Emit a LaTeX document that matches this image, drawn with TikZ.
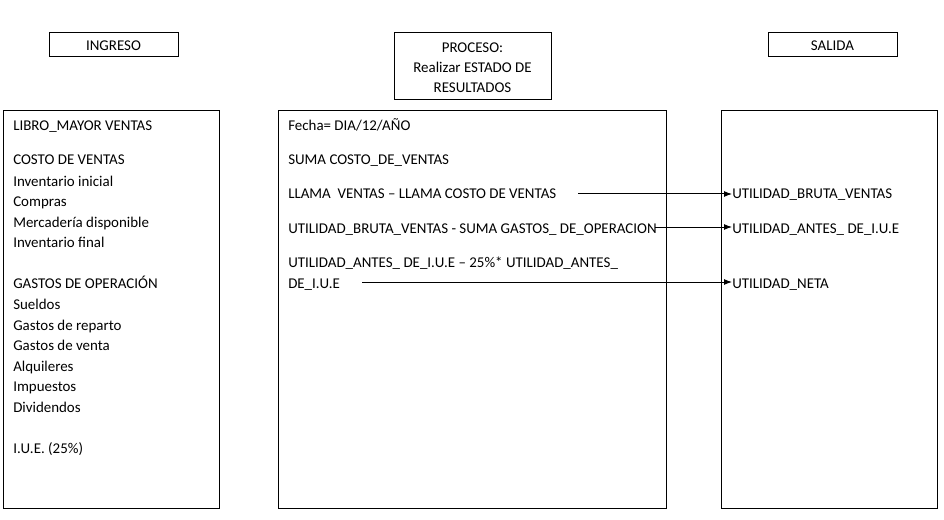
\documentclass[tikz,border=0pt]{standalone}
\usepackage{fontspec}
\setmainfont{Carlito}
\usetikzlibrary{arrows.meta}

\begin{document}
\begin{tikzpicture}[x=0.75pt, y=-0.75pt,
    font=\fontsize{11.2}{13}\selectfont,
    txt/.style={anchor=base west, inner sep=0pt},
    flow/.style={black, line width=0.75pt, -{Latex[length=6pt, width=4.5pt]}}]
    \useasboundingbox (0,0) rectangle (944,520);
    % header boxes
    \draw[black, line width=0.75pt] (49,33) rectangle (178,57);
    \draw[black, line width=0.75pt] (394,33) rectangle (551,100);
    \draw[black, line width=0.75pt] (768,33) rectangle (897,57);
    % main boxes
    \draw[black, line width=0.75pt] (3,111) rectangle (219,508);
    \draw[black, line width=0.75pt] (278,111) rectangle (666,508);
    \draw[black, line width=0.75pt] (721,111) rectangle (937,508);
    % header labels
    \node[anchor=base, inner sep=0pt] (ingreso) at (113.5,51) {INGRESO};
    \node[anchor=base, inner sep=0pt] (proceso) at (472.5,53) {PROCESO:};
    \node[anchor=base, inner sep=0pt] (realizar) at (472.5,73) {Realizar ESTADO DE};
    \node[anchor=base, inner sep=0pt] (resultados) at (472.5,93) {RESULTADOS};
    \node[anchor=base, inner sep=0pt] (salida) at (832.5,51) {SALIDA};
    % ingreso
    \node[txt] (libro) at (13,131) {LIBRO\_MAYOR VENTAS};
    \node[txt] (costo) at (13,165) {COSTO DE VENTAS};
    \node[txt] (invini) at (13,186) {Inventario inicial};
    \node[txt] (compras) at (13,206) {Compras};
    \node[txt] (merc) at (13,227) {Mercadería disponible};
    \node[txt] (invfin) at (13,247) {Inventario final};
    \node[txt] (gastos) at (13,288) {GASTOS DE OPERACIÓN};
    \node[txt] (sueldos) at (13,309) {Sueldos};
    \node[txt] (reparto) at (13,330) {Gastos de reparto};
    \node[txt] (venta) at (13,350) {Gastos de venta};
    \node[txt] (alquileres) at (13,371) {Alquileres};
    \node[txt] (impuestos) at (13,391) {Impuestos};
    \node[txt] (dividendos) at (13,412) {Dividendos};
    \node[txt] (iue) at (13,453) {I.U.E. (25\%)};
    % proceso
    \node[txt] (fecha) at (288,131) {Fecha= DIA/12/AÑO};
    \node[txt] (suma) at (288,165) {SUMA COSTO\_DE\_VENTAS};
    \node[txt] (llama) at (288,199) {LLAMA\ \ VENTAS – LLAMA COSTO DE VENTAS};
    \node[txt] (resta) at (288,233) {UTILIDAD\_BRUTA\_VENTAS - SUMA GASTOS\_ DE\_OPERACION};
    \node[txt] (imp) at (288,267) {UTILIDAD\_ANTES\_ DE\_I.U.E – 25\%* UTILIDAD\_ANTES\_};
    \node[txt] (imp2) at (288,288) {DE\_I.U.E};
    % salida
    \node[txt] (bruta) at (732,199) {UTILIDAD\_BRUTA\_VENTAS};
    \node[txt] (antes) at (732,233) {UTILIDAD\_ANTES\_ DE\_I.U.E};
    \node[txt] (neta) at (732,288) {UTILIDAD\_NETA};
    % arrows
    \coordinate (a1) at (578,194);
    \coordinate (a2) at (655,227);
    \coordinate (a3) at (362,282);
    \draw[flow] (a1) -- (a1 -| bruta.west);
    \draw[flow] (a2) -- (a2 -| antes.west);
    \draw[flow] (a3) -- (a3 -| neta.west);
\end{tikzpicture}
\end{document}
